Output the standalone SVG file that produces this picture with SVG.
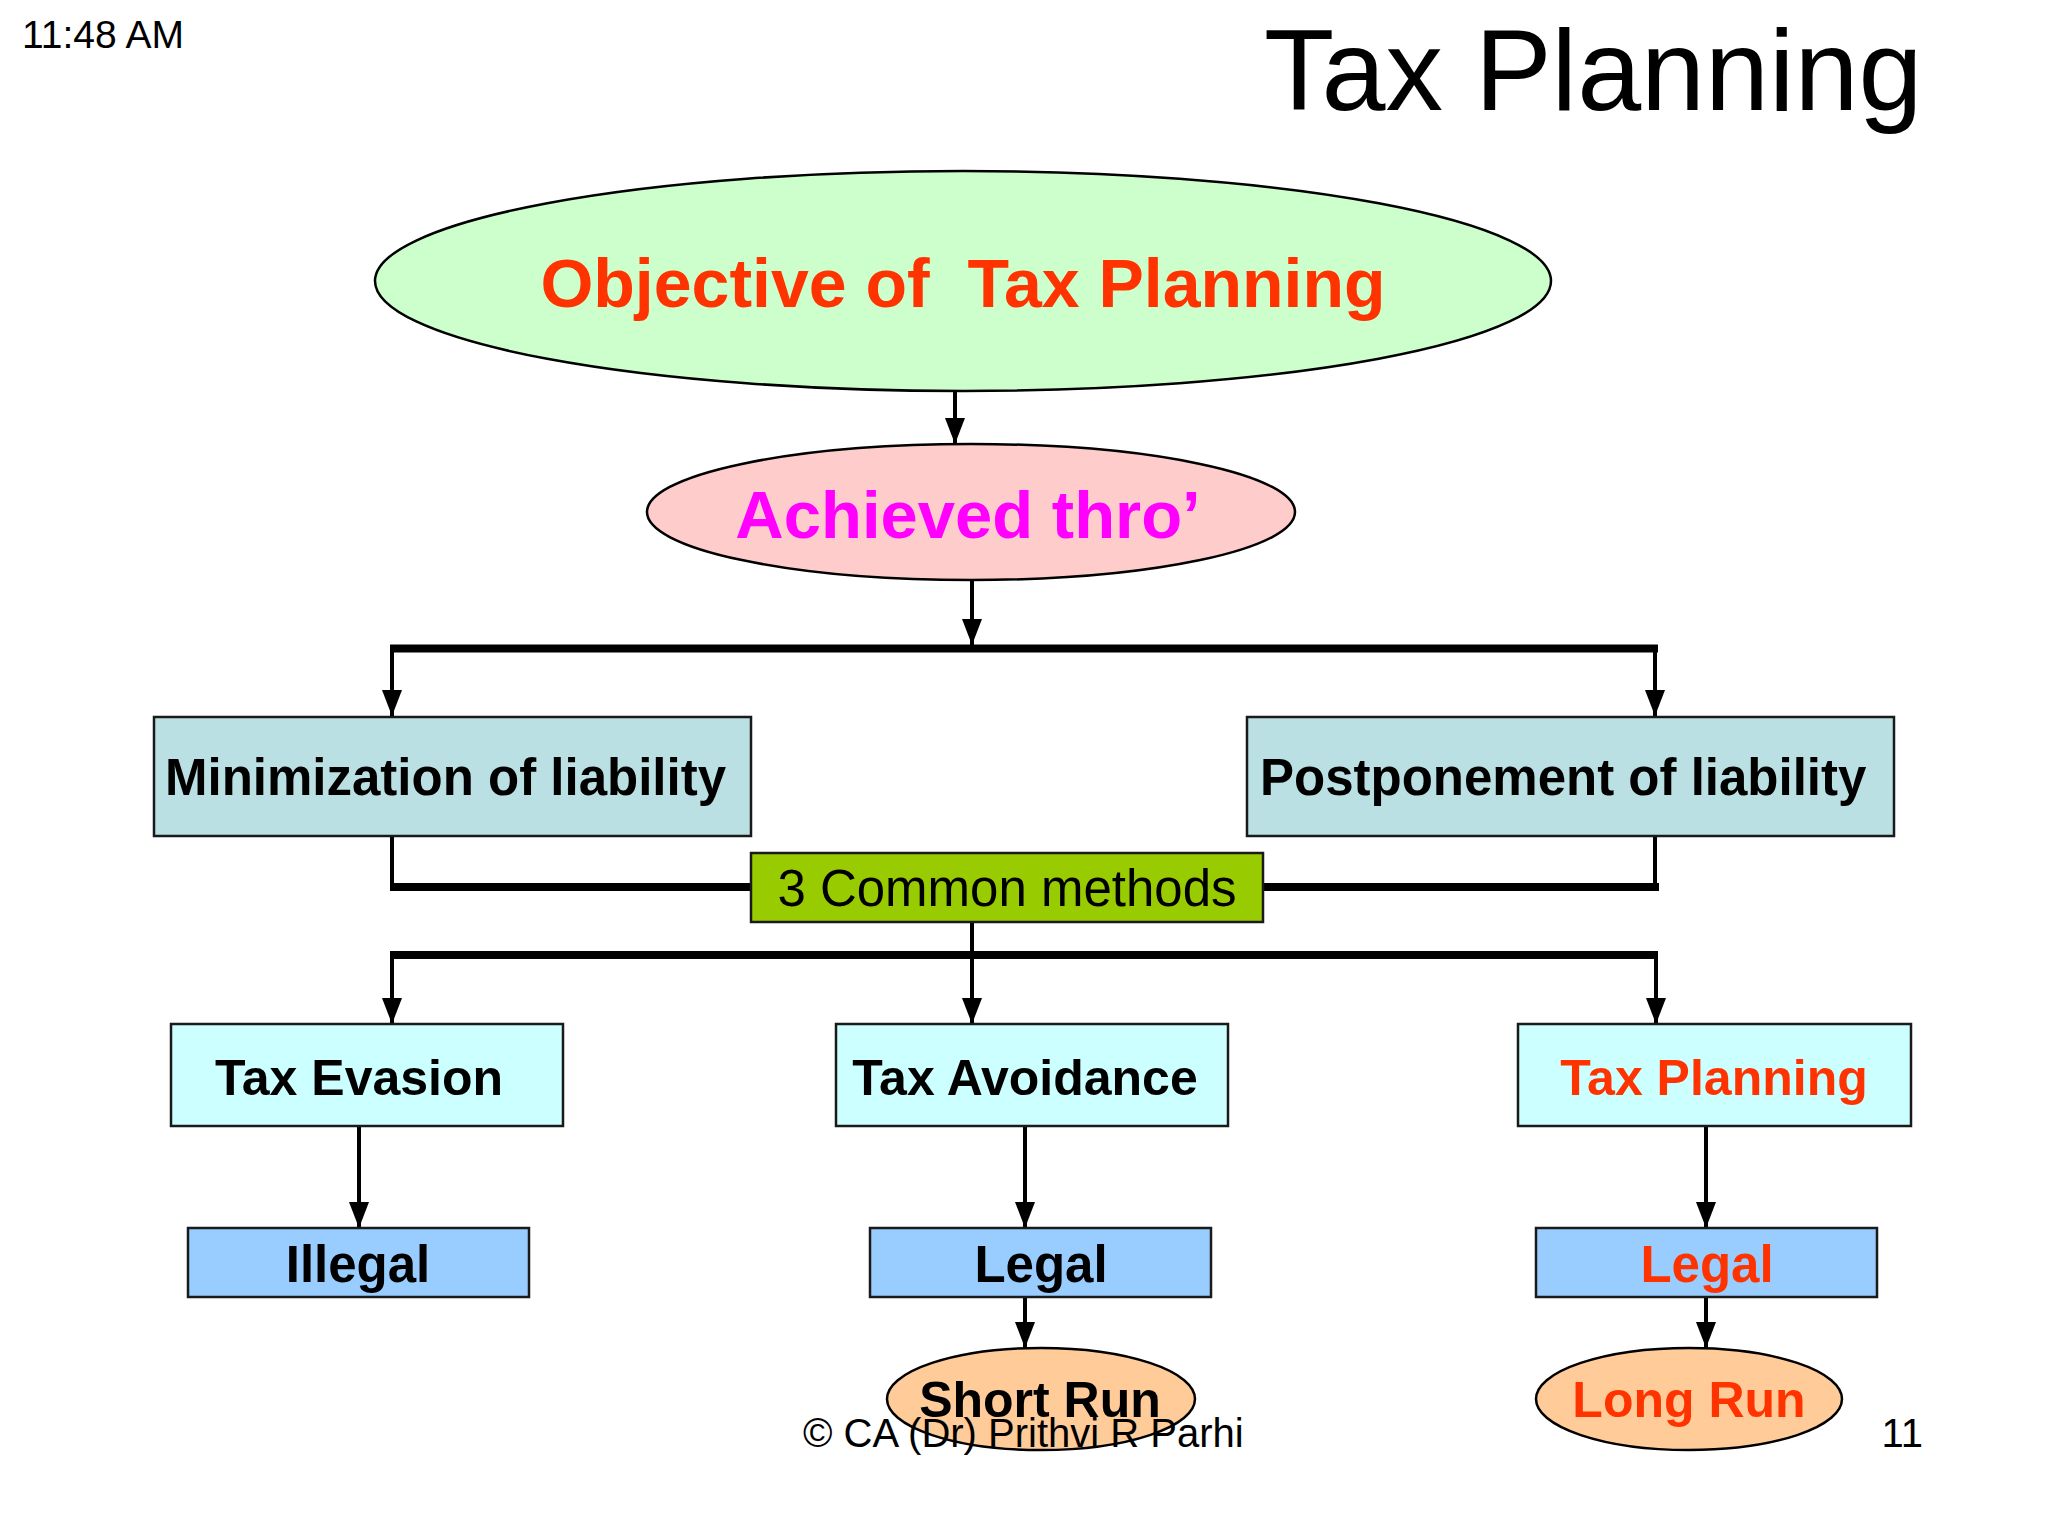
<svg xmlns="http://www.w3.org/2000/svg" width="2048" height="1536" viewBox="0 0 2048 1536">
<style>
text{font-family:"Liberation Sans",Arial,sans-serif}
.b{font-weight:bold}
.box{stroke:#1a1a1a;stroke-width:2.5}
.ell{stroke:#000;stroke-width:2.5}
.ln{fill:none;stroke:#000;stroke-width:4}
.thick{fill:none;stroke:#000;stroke-width:8}
.red{fill:#FF3300}
</style>
<defs>
<marker id="ah" markerUnits="userSpaceOnUse" markerWidth="26" markerHeight="20" refX="26" refY="10" orient="auto">
<path d="M0,0 L26,10 L0,20 z" fill="#000"/>
</marker>
</defs>
<rect width="2048" height="1536" fill="#fff"/>
<text x="22" y="48" font-size="39">11:48 AM</text>
<text x="1264" y="110" font-size="115">Tax Planning</text>

<g id="connectors">
<line class="ln" x1="955" y1="392" x2="955" y2="444" marker-end="url(#ah)"/>
<line class="ln" x1="972" y1="580" x2="972" y2="645" marker-end="url(#ah)"/>
<line class="thick" x1="390" y1="648.5" x2="1658" y2="648.5"/>
<line class="ln" x1="392" y1="648" x2="392" y2="716" marker-end="url(#ah)"/>
<line class="ln" x1="1655" y1="648" x2="1655" y2="716" marker-end="url(#ah)"/>
<path class="ln" d="M392,836 V887"/>
<path class="ln" d="M1655,836 V887"/>
<line class="thick" x1="390" y1="887" x2="751" y2="887"/>
<line class="thick" x1="1263" y1="887" x2="1659" y2="887"/>
<line class="ln" x1="972" y1="922" x2="972" y2="955"/>
<line class="thick" x1="390" y1="955" x2="1658" y2="955"/>
<line class="ln" x1="392" y1="955" x2="392" y2="1024" marker-end="url(#ah)"/>
<line class="ln" x1="972" y1="955" x2="972" y2="1024" marker-end="url(#ah)"/>
<line class="ln" x1="1656" y1="955" x2="1656" y2="1024" marker-end="url(#ah)"/>
<line class="ln" x1="359" y1="1126" x2="359" y2="1228" marker-end="url(#ah)"/>
<line class="ln" x1="1025" y1="1126" x2="1025" y2="1228" marker-end="url(#ah)"/>
<line class="ln" x1="1706" y1="1126" x2="1706" y2="1228" marker-end="url(#ah)"/>
<line class="ln" x1="1025" y1="1297" x2="1025" y2="1348" marker-end="url(#ah)"/>
<line class="ln" x1="1706" y1="1297" x2="1706" y2="1348" marker-end="url(#ah)"/>
</g>

<g id="objective">
<ellipse class="ell" cx="963" cy="281" rx="588" ry="110" fill="#CCFFCC"/>
<text class="b red" x="963" y="307" font-size="68" text-anchor="middle" xml:space="preserve">Objective of  Tax Planning</text>
</g>
<g id="achieved">
<ellipse class="ell" cx="971" cy="512" rx="324" ry="68" fill="#FFCCCC"/>
<text class="b" x="968" y="538" font-size="67" text-anchor="middle" fill="#FF00FF">Achieved thro’</text>
</g>
<g id="minimization">
<rect class="box" x="154" y="717" width="597" height="119" fill="#BBE0E3"/>
<text class="b" x="165" y="795" font-size="51">Minimization of liability</text>
</g>
<g id="postponement">
<rect class="box" x="1247" y="717" width="647" height="119" fill="#BBE0E3"/>
<text class="b" x="1260" y="795" font-size="51">Postponement of liability</text>
</g>
<g id="methods">
<rect class="box" x="751" y="853" width="512" height="69" fill="#99CC00"/>
<text x="1007" y="906" font-size="51" text-anchor="middle">3 Common methods</text>
</g>
<g id="evasion">
<rect class="box" x="171" y="1024" width="392" height="102" fill="#CCFFFF"/>
<text class="b" x="359" y="1095" font-size="50" text-anchor="middle">Tax Evasion</text>
</g>
<g id="avoidance">
<rect class="box" x="836" y="1024" width="392" height="102" fill="#CCFFFF"/>
<text class="b" x="1025" y="1095" font-size="50" text-anchor="middle">Tax Avoidance</text>
</g>
<g id="planning">
<rect class="box" x="1518" y="1024" width="393" height="102" fill="#CCFFFF"/>
<text class="b red" x="1714" y="1095" font-size="50" text-anchor="middle">Tax Planning</text>
</g>
<g id="illegal">
<rect class="box" x="188" y="1228" width="341" height="69" fill="#99CCFF"/>
<text class="b" x="358" y="1282" font-size="51" text-anchor="middle">Illegal</text>
</g>
<g id="legal1">
<rect class="box" x="870" y="1228" width="341" height="69" fill="#99CCFF"/>
<text class="b" x="1041" y="1282" font-size="51" text-anchor="middle">Legal</text>
</g>
<g id="legal2">
<rect class="box" x="1536" y="1228" width="341" height="69" fill="#99CCFF"/>
<text class="b red" x="1707" y="1282" font-size="51" text-anchor="middle">Legal</text>
</g>
<g id="shortrun">
<ellipse class="ell" cx="1041" cy="1399" rx="154" ry="51" fill="#FFCC99"/>
<text class="b" x="1040" y="1417" font-size="50" text-anchor="middle">Short Run</text>
</g>
<g id="longrun">
<ellipse class="ell" cx="1689" cy="1399" rx="153" ry="51" fill="#FFCC99"/>
<text class="b red" x="1689" y="1417" font-size="50" text-anchor="middle">Long Run</text>
</g>

<text x="803" y="1447" font-size="40">© CA (Dr) Prithvi R Parhi</text>
<text x="1923" y="1447" font-size="40" text-anchor="end">11</text>
</svg>
